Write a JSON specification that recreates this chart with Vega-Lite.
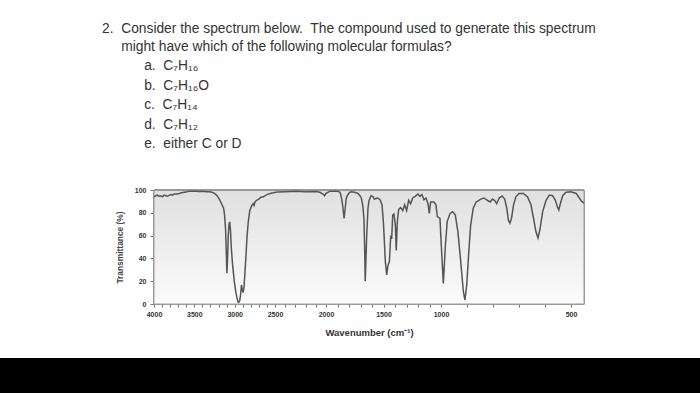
{
  "$schema": "https://vega.github.io/schema/vega-lite/v6.json",
  "width": 700,
  "height": 358,
  "autosize": {"type": "none"},
  "padding": {"left": 0, "right": 0, "top": 0, "bottom": 35},
  "background": "black",
  "view": {"fill": "white", "stroke": null},
  "config": {"axis": {"labelOverlap": false, "labelFlush": false, "grid": false}},
  "title": {
    "text": ["2.\u00a0\u00a0Consider the spectrum below.\u00a0 The compound used to generate this spectrum", "\u200b\u00a0\u00a0\u00a0\u00a0\u00a0might have which of the following molecular formulas?"],
    "subtitle": [
      "\u200b\u00a0\u00a0\u00a0\u00a0\u00a0\u00a0\u00a0\u00a0\u00a0\u00a0\u00a0a.\u00a0\u00a0C₇H₁₆",
      "\u200b\u00a0\u00a0\u00a0\u00a0\u00a0\u00a0\u00a0\u00a0\u00a0\u00a0\u00a0b.\u00a0\u00a0C₇H₁₆O",
      "\u200b\u00a0\u00a0\u00a0\u00a0\u00a0\u00a0\u00a0\u00a0\u00a0\u00a0\u00a0c.\u00a0\u00a0C₇H₁₄",
      "\u200b\u00a0\u00a0\u00a0\u00a0\u00a0\u00a0\u00a0\u00a0\u00a0\u00a0\u00a0d.\u00a0\u00a0C₇H₁₂",
      "\u200b\u00a0\u00a0\u00a0\u00a0\u00a0\u00a0\u00a0\u00a0\u00a0\u00a0\u00a0e.\u00a0\u00a0either C or D"
    ],
    "anchor": "start",
    "frame": "group",
    "font": "Liberation Sans",
    "fontSize": 13.8,
    "fontWeight": "normal",
    "color": "#333333",
    "lineHeight": 18,
    "subtitleFont": "Liberation Sans",
    "subtitleFontSize": 13.8,
    "subtitleColor": "#333333",
    "subtitleLineHeight": 19.5,
    "subtitlePadding": 5,
    "offset": 0,
    "dx": 102,
    "dy": 151
  },
  "data": {"values": [
    {"w":4000,"t":94},{"w":3975,"t":95},{"w":3958,"t":95.5},{"w":3940,"t":94.5},{"w":3917,"t":95},{"w":3895,"t":94},{"w":3875,"t":95.5},{"w":3850,"t":95},{"w":3833,"t":94.5},{"w":3810,"t":95.5},{"w":3792,"t":96},{"w":3770,"t":95.5},{"w":3750,"t":96.5},{"w":3720,"t":96.5},{"w":3687,"t":97},{"w":3660,"t":97.5},{"w":3625,"t":98},{"w":3590,"t":98.5},{"w":3562,"t":99},{"w":3520,"t":98.8},{"w":3479,"t":99},{"w":3440,"t":98.7},{"w":3396,"t":98.8},{"w":3350,"t":98.5},{"w":3312,"t":98.5},{"w":3280,"t":98},{"w":3250,"t":97},{"w":3225,"t":95.5},{"w":3209,"t":94},{"w":3190,"t":92},{"w":3170,"t":89},{"w":3150,"t":86},{"w":3137,"t":84},{"w":3125,"t":78},{"w":3112,"t":65},{"w":3104,"t":45},{"w":3096,"t":27},{"w":3088,"t":40},{"w":3079,"t":60},{"w":3070,"t":70},{"w":3062,"t":72},{"w":3052,"t":65},{"w":3042,"t":50},{"w":3030,"t":38},{"w":3021,"t":31},{"w":3005,"t":20},{"w":2987,"t":11},{"w":2970,"t":5},{"w":2959,"t":2},{"w":2950,"t":1.5},{"w":2937,"t":3},{"w":2927,"t":8},{"w":2916,"t":16.7},{"w":2906,"t":13},{"w":2896,"t":10},{"w":2885,"t":14},{"w":2875,"t":25},{"w":2860,"t":42},{"w":2846,"t":60},{"w":2830,"t":73},{"w":2812,"t":82},{"w":2790,"t":86},{"w":2771,"t":88},{"w":2760,"t":86.5},{"w":2748,"t":89.5},{"w":2729,"t":91},{"w":2700,"t":92},{"w":2680,"t":93.5},{"w":2646,"t":94},{"w":2600,"t":96},{"w":2560,"t":97},{"w":2521,"t":97.5},{"w":2480,"t":98.3},{"w":2400,"t":98.5},{"w":2300,"t":98.8},{"w":2200,"t":98.5},{"w":2100,"t":98.7},{"w":2060,"t":98},{"w":2030,"t":96.5},{"w":2014,"t":95},{"w":2000,"t":97},{"w":1968,"t":98.8},{"w":1930,"t":99},{"w":1896,"t":99},{"w":1880,"t":98},{"w":1872,"t":96},{"w":1860,"t":90},{"w":1852,"t":84},{"w":1843,"t":75},{"w":1835,"t":82},{"w":1825,"t":92},{"w":1815,"t":95},{"w":1795,"t":98},{"w":1780,"t":98.5},{"w":1750,"t":98},{"w":1722,"t":97},{"w":1705,"t":95},{"w":1693,"t":93},{"w":1680,"t":86},{"w":1670,"t":75},{"w":1663,"t":45},{"w":1659,"t":20},{"w":1654,"t":35},{"w":1646,"t":60},{"w":1635,"t":84},{"w":1625,"t":91},{"w":1608,"t":95},{"w":1590,"t":94},{"w":1579,"t":92},{"w":1565,"t":92.5},{"w":1550,"t":93},{"w":1530,"t":91.5},{"w":1513,"t":87},{"w":1501,"t":72},{"w":1490,"t":50},{"w":1484,"t":37},{"w":1472,"t":25.5},{"w":1461,"t":34},{"w":1449,"t":37},{"w":1437,"t":60},{"w":1429,"t":57},{"w":1420,"t":78},{"w":1409,"t":79},{"w":1397,"t":69},{"w":1389,"t":47},{"w":1380,"t":72},{"w":1368,"t":83},{"w":1351,"t":84.5},{"w":1333,"t":82},{"w":1316,"t":87},{"w":1299,"t":82},{"w":1281,"t":91},{"w":1264,"t":88},{"w":1246,"t":93},{"w":1224,"t":94.4},{"w":1200,"t":96.5},{"w":1183,"t":94.4},{"w":1166,"t":96},{"w":1148,"t":91.5},{"w":1131,"t":93},{"w":1113,"t":88},{"w":1102,"t":79.5},{"w":1090,"t":89.5},{"w":1061,"t":89.5},{"w":1044,"t":87},{"w":1032,"t":76.6},{"w":1009,"t":75},{"w":999,"t":52},{"w":991,"t":18},{"w":983,"t":52},{"w":976,"t":72.5},{"w":965,"t":79.5},{"w":955,"t":81},{"w":945,"t":78},{"w":935,"t":63.5},{"w":924,"t":37},{"w":914,"t":11},{"w":908,"t":3.5},{"w":901,"t":16.7},{"w":893,"t":46},{"w":886,"t":69},{"w":876,"t":84},{"w":865,"t":89.5},{"w":860,"t":90},{"w":847,"t":92},{"w":834,"t":93},{"w":822,"t":91},{"w":811,"t":89.5},{"w":802,"t":92},{"w":793,"t":90.6},{"w":786,"t":88},{"w":776,"t":93},{"w":765,"t":94.7},{"w":755,"t":92},{"w":747,"t":84},{"w":741,"t":73.7},{"w":735,"t":70.8},{"w":729,"t":75},{"w":721,"t":87},{"w":712,"t":94},{"w":700,"t":97},{"w":683,"t":97},{"w":667,"t":94},{"w":654,"t":87},{"w":644,"t":75},{"w":635,"t":63.5},{"w":627,"t":58},{"w":619,"t":66},{"w":609,"t":81},{"w":596,"t":91},{"w":583,"t":95.6},{"w":571,"t":95},{"w":560,"t":91},{"w":552,"t":85},{"w":547,"t":82.5},{"w":541,"t":88},{"w":532,"t":95},{"w":519,"t":98},{"w":500,"t":98.5},{"w":480,"t":97},{"w":468,"t":93},{"w":459,"t":90},{"w":450,"t":88.5}
  ]},
  "encoding": {
    "x": {
      "field": "w", "type": "quantitative",
      "scale": {"domain": [4000, 2500, 2000, 1000, 450], "range": [154, 275, 326, 441, 584], "nice": false, "zero": false},
      "axis": {
        "title": "Wavenumber (cm⁻¹)",
        "offset": -54,
        "values": [4000,3900,3800,3700,3600,3500,3400,3300,3200,3100,3000,2900,2800,2700,2600,2500,2400,2300,2200,2100,2000,1900,1800,1700,1600,1500,1400,1300,1200,1100,1000,900,800,700,600,500],
        "format": "d",
        "labelExpr": "datum.value % 500 === 0 ? datum.label : ''",
        "labelFont": "Liberation Sans", "labelFontWeight": "bold", "labelFontSize": 7, "labelColor": "#333333",
        "labelOverlap": false, "labelFlush": false, "labelPadding": 3,
        "tickSize": 3, "tickColor": "#777777", "domainColor": "#888888", "grid": false,
        "titleFont": "Liberation Sans", "titleFontWeight": "bold", "titleFontSize": 9.5, "titleColor": "#333333", "titlePadding": 10
      }
    },
    "y": {
      "field": "t", "type": "quantitative",
      "scale": {"domain": [0, 100], "range": [304, 190], "nice": false, "zero": true},
      "axis": {
        "title": "Transmittance (%)",
        "offset": -154,
        "values": [0, 20, 40, 60, 80, 100],
        "labelOverlap": false, "labelFlush": false,
        "labelFont": "Liberation Sans", "labelFontWeight": "bold", "labelFontSize": 7, "labelColor": "#333333", "labelPadding": 4,
        "tickSize": 4, "tickColor": "#777777", "domainColor": "#888888", "grid": false,
        "titleFont": "Liberation Sans", "titleFontWeight": "bold", "titleFontSize": 8.4, "titleColor": "#444444", "titlePadding": 10
      }
    }
  },
  "layer": [
    {
      "mark": {"type": "rect", "fill": {"gradient": "linear", "x1": 0, "y1": 0, "x2": 0, "y2": 1, "stops": [{"offset": 0, "color": "#e0e0e0"}, {"offset": 1, "color": "#fbfbfb"}]}, "stroke": "#9a9a9a", "strokeWidth": 1},
      "encoding": {
        "x": {"datum": 4000, "type": "quantitative"},
        "x2": {"datum": 450},
        "y": {"datum": 0, "type": "quantitative"},
        "y2": {"datum": 100}
      }
    },
    {
      "mark": {"type": "rule", "stroke": "#9a9a9a", "strokeWidth": 2},
      "encoding": {
        "x": {"datum": 4000, "type": "quantitative"},
        "x2": {"datum": 450},
        "y": {"datum": 100, "type": "quantitative"}
      }
    },
    {
      "mark": {"type": "line", "stroke": "#555555", "strokeWidth": 1.5, "interpolate": "linear"}
    }
  ]
}
